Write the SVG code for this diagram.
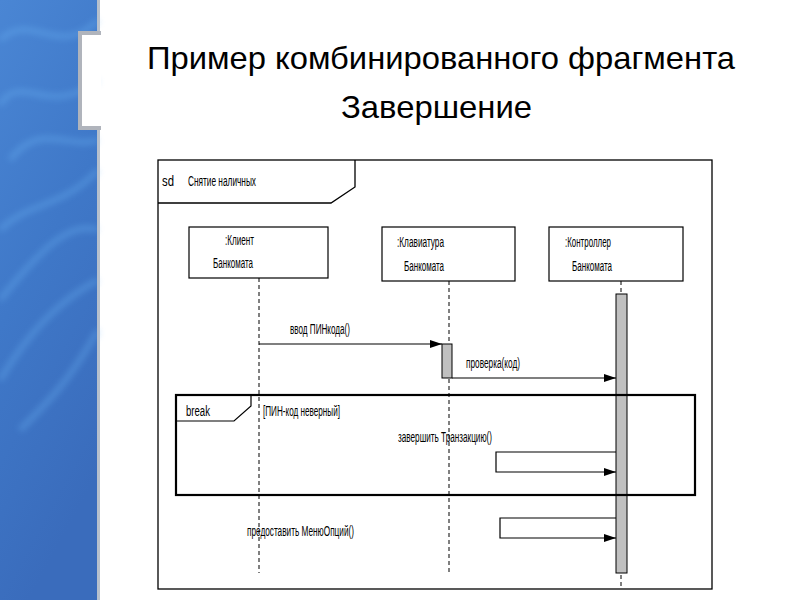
<svg xmlns="http://www.w3.org/2000/svg" width="800" height="600" viewBox="0 0 800 600">
  <defs>
    <linearGradient id="blue" x1="0" y1="0" x2="0.3" y2="1">
      <stop offset="0" stop-color="#4a86d4"/>
      <stop offset="0.5" stop-color="#3f78c8"/>
      <stop offset="1" stop-color="#3a6cbc"/>
    </linearGradient>
    <filter id="soft" x="-20%" y="-20%" width="140%" height="140%">
      <feGaussianBlur stdDeviation="3"/>
    </filter>
    <marker id="arrow" viewBox="0 0 12 10" refX="12" refY="5" markerWidth="12" markerHeight="10" markerUnits="userSpaceOnUse" orient="auto">
      <path d="M0,1 L12,5 L0,9 z" fill="#000"/>
    </marker>
    <style>
      .title { font-family: "Liberation Sans", Arial, sans-serif; font-size: 32px; fill: #000; }
      .t { font-family: "Liberation Sans", Arial, sans-serif; font-size: 14px; fill: #000; }
      .box { fill: #fff; stroke: #000; stroke-width: 1.2; }
      .life { stroke: #000; stroke-width: 1; stroke-dasharray: 4 3; fill: none; }
      .act { fill: #c0c0c0; stroke: #000; stroke-width: 1; }
      .msg { stroke: #000; stroke-width: 1.2; fill: none; }
      .frame { fill: none; stroke: #000; stroke-width: 1.3; }
      .frag { fill: none; stroke: #000; stroke-width: 2.2; }
    </style>
  </defs>

  <rect x="0" y="0" width="800" height="600" fill="#fff"/>

  <!-- decorative blue strip -->
  <g id="sidebar">
    <rect x="0" y="0" width="98" height="600" fill="url(#blue)"/>
    <g stroke="#6cb4f4" stroke-width="6" fill="none" opacity="0.35" filter="url(#soft)">
      <path d="M0,40 C30,10 60,60 98,20"/>
      <path d="M0,105 C20,70 50,120 98,80"/>
      <path d="M10,160 C40,120 70,150 98,140"/>
      <path d="M0,230 C30,200 60,210 98,170"/>
      <path d="M0,300 C40,250 70,220 98,230"/>
      <path d="M0,380 C30,330 60,300 98,280"/>
      <path d="M20,430 C50,400 70,380 98,330"/>
    </g>
    <rect x="97" y="0" width="3" height="600" fill="#b7c0cc"/>
    <path d="M101,33 L80,33 L80,128 L101,128" fill="#fff" stroke="#b0b4bc" stroke-width="4"/>
    <rect x="82" y="35" width="18" height="91" fill="#fff"/>
  </g>

  <!-- title -->
  <g id="title">
    <text class="title" x="147" y="69" textLength="588" lengthAdjust="spacingAndGlyphs">Пример комбинированного фрагмента</text>
    <text class="title" x="341" y="118" textLength="191" lengthAdjust="spacingAndGlyphs">Завершение</text>
  </g>

  <!-- sd frame -->
  <g id="sd-frame">
    <rect class="frame" x="158" y="160" width="554" height="429"/>
    <path class="frame" d="M355,160 L355,187 L331,203 L158,203"/>
    <text class="t" x="162" y="186" textLength="12" lengthAdjust="spacingAndGlyphs">sd</text>
    <text class="t" x="188" y="186" textLength="68" lengthAdjust="spacingAndGlyphs">Снятие наличных</text>
  </g>

  <!-- lifelines -->
  <g id="client">
    <rect class="box" x="189" y="227" width="139" height="51"/>
    <text class="t" x="225" y="245" textLength="29" lengthAdjust="spacingAndGlyphs">:Клиент</text>
    <text class="t" x="213" y="268" textLength="40" lengthAdjust="spacingAndGlyphs">Банкомата</text>
    <line class="life" x1="259" y1="278" x2="259" y2="573"/>
  </g>

  <g id="keyboard">
    <rect class="box" x="382" y="227" width="133" height="54"/>
    <text class="t" x="397" y="247" textLength="47" lengthAdjust="spacingAndGlyphs">:Клавиатура</text>
    <text class="t" x="404" y="271" textLength="40" lengthAdjust="spacingAndGlyphs">Банкомата</text>
    <line class="life" x1="449" y1="281" x2="449" y2="573"/>
    <rect class="act" x="442" y="344" width="10" height="34"/>
  </g>

  <g id="controller">
    <rect class="box" x="549" y="227" width="134" height="54"/>
    <text class="t" x="565" y="247" textLength="46" lengthAdjust="spacingAndGlyphs">:Контроллер</text>
    <text class="t" x="572" y="271" textLength="40" lengthAdjust="spacingAndGlyphs">Банкомата</text>
    <line class="life" x1="621" y1="281" x2="621" y2="587"/>
    <rect class="act" x="616" y="294" width="11" height="279"/>
  </g>

  <!-- break fragment -->
  <g id="break-fragment">
    <rect class="frag" x="176" y="395" width="519" height="100"/>
    <path d="M251,395 L251,406 L234,421 L176,421" fill="none" stroke="#000" stroke-width="1.2"/>
    <text class="t" x="186" y="416" textLength="24" lengthAdjust="spacingAndGlyphs">break</text>
    <text class="t" x="263" y="416" textLength="77" lengthAdjust="spacingAndGlyphs">[ПИН-код неверный]</text>
  </g>

  <!-- connectors -->
  <g id="connectors">
    <line class="msg" x1="259" y1="344" x2="442" y2="344" marker-end="url(#arrow)"/>
    <text class="t" x="290" y="334" textLength="60" lengthAdjust="spacingAndGlyphs">ввод ПИНкода()</text>

    <line class="msg" x1="452" y1="378" x2="616" y2="378" marker-end="url(#arrow)"/>
    <text class="t" x="466" y="368" textLength="54" lengthAdjust="spacingAndGlyphs">проверка(код)</text>

    <path class="msg" d="M616,452 L496,452 L496,472 L616,472" marker-end="url(#arrow)"/>
    <text class="t" x="398" y="442" textLength="94" lengthAdjust="spacingAndGlyphs">завершить Транзакцию()</text>

    <path class="msg" d="M616,518 L500,518 L500,538 L616,538" marker-end="url(#arrow)"/>
    <text class="t" x="247" y="536" textLength="107" lengthAdjust="spacingAndGlyphs">предоставить МенюОпций()</text>
  </g>
</svg>
